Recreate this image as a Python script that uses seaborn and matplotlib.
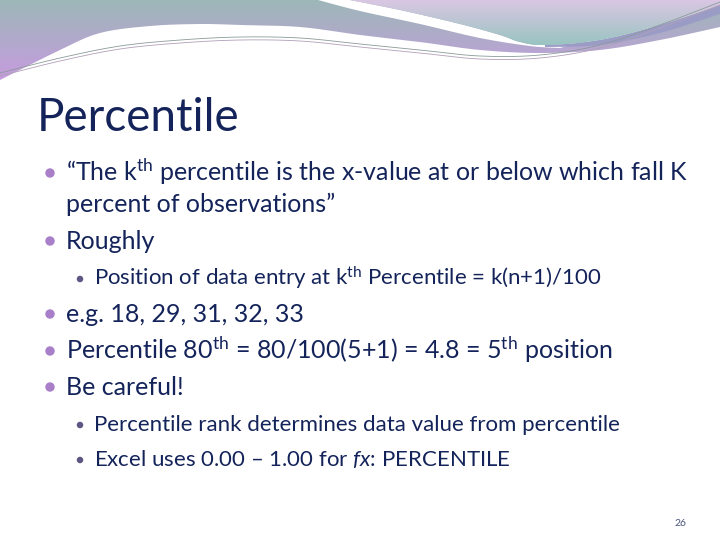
import numpy as np
import pandas as pd
import matplotlib
matplotlib.use("Agg")
import matplotlib.pyplot as plt
from matplotlib.path import Path
from matplotlib.patches import PathPatch
from matplotlib.colors import to_rgb
import seaborn as sns

# Slide content
title = "Percentile"
lines = [
    "“The k$^{th}$ percentile is the x-value at or below which fall K",
    "percent of observations”",
    "Roughly",
    "Position of data entry at k$^{th}$ Percentile = k(n+1)/100",
    "e.g. 18, 29, 31, 32, 33",
    "Percentile 80$^{th}$ = 80/100(5+1) = 4.8 = 5$^{th}$ position",
    "Be careful!",
    "Percentile rank determines data value from percentile",
    "Excel uses 0.00 – 1.00 for $\\mathit{fx}$: PERCENTILE",
]
levels = [1, 0, 1, 2, 1, 1, 1, 2, 2]   # 0 = wrapped line, no bullet
page_number = "26"

# layout (pixels, y downwards)
baselines = [181, 212, 249, 285, 322, 359, 395, 431, 466]
text_x = {0: 66, 1: 66, 2: 94}
bullet_x = {1: 50, 2: 80}
bullet_dy = {1: 8, 2: 6}

navy = "#14245a"
main_dot = "#a97fc9"
sub_dot = "#5b5782"

sns.set_theme(style="white")
plt.rcParams["font.family"] = ["Lato", "DejaVu Sans"]
plt.rcParams["mathtext.fontset"] = "custom"
plt.rcParams["mathtext.rm"] = "Lato"
plt.rcParams["mathtext.it"] = "Lato:italic"
plt.rcParams["mathtext.default"] = "regular"

fig = plt.figure(figsize=(7.2, 5.4), dpi=100)
ax = fig.add_axes([0, 0, 1, 1])
fig.patch.set_facecolor("white")


def smooth(pts, n=20):
    # catmull-rom through the given points
    pts = np.asarray(pts, float)
    p = np.vstack([pts[0], pts, pts[-1]])
    out = []
    for i in range(1, len(p) - 2):
        p0, p1, p2, p3 = p[i - 1], p[i], p[i + 1], p[i + 2]
        t = np.linspace(0, 1, n, endpoint=False)[:, None]
        out.append(0.5 * ((2 * p1) + (-p0 + p2) * t
                          + (2 * p0 - 5 * p1 + 4 * p2 - p3) * t ** 2
                          + (-p0 + 3 * p1 - 3 * p2 + p3) * t ** 3))
    out.append(pts[-1:])
    return np.vstack(out)


def gradient_fill(poly, top_color, bottom_color, y0, y1, z):
    patch = PathPatch(Path(poly), facecolor="none", edgecolor="none")
    ax.add_patch(patch)
    c0, c1 = np.array(to_rgb(top_color)), np.array(to_rgb(bottom_color))
    t = np.linspace(0, 1, 200)[:, None, None]
    img = c0 * (1 - t) + c1 * t
    im = ax.imshow(img, extent=[0, 720, y1, y0], aspect="auto", zorder=z,
                   interpolation="bilinear")
    im.set_clip_path(patch)


# top decoration: big band
lower = smooth([(0, 80), (60, 50), (100, 33), (150, 26), (200, 24), (240, 25),
                (300, 27), (360, 35), (420, 42), (480, 50), (540, 53),
                (600, 50), (660, 40), (720, 27)])
band = np.vstack([[0, 0], lower, [720, 0]])
gradient_fill(band, "#9db7b8", "#c79be0", 0, 82, 1)

# white stripe and upper-right shape
stripe_low = smooth([(318, 0), (360, 11), (420, 24), (480, 38), (530, 46), (560, 48)])
right_edge = smooth([(350, 0), (400, 10), (460, 24), (500, 35), (520, 42),
                     (545, 45), (600, 40), (660, 25), (720, 5)])
stripe = np.vstack([stripe_low, right_edge[::-1]])
ax.fill(stripe[:, 0], stripe[:, 1], color="white", zorder=2, lw=0)

blue_band = smooth([(545, 47), (600, 45), (660, 33), (720, 14)])
bb = np.vstack([right_edge[right_edge[:, 0] >= 545], blue_band[::-1]])
ax.fill(bb[:, 0], bb[:, 1], color="#9a9cc6", zorder=2, lw=0)

shape = np.vstack([[350, 0], right_edge, [720, 0]])
gradient_fill(shape, "#dac7e3", "#97c4c0", 0, 46, 3)

# thin lines
for off, col in [(0, "#8c9a9a"), (3, "#b0a0b8")]:
    thin = smooth([(0, 73), (60, 58), (120, 46), (180, 40), (240, 37),
                   (300, 38), (360, 44), (420, 50), (480, 56), (540, 55),
                   (600, 45), (660, 25), (720, 2)])
    ax.plot(thin[:, 0], thin[:, 1] + off, color=col, lw=0.6, zorder=4)

# title
ax.text(37, 131, title, fontsize=33, color=navy, va="baseline", ha="left", zorder=5)

# text lines
for txt, lev, y in zip(lines, levels, baselines):
    size = 16 if lev == 2 else 18
    ax.text(text_x[lev], y, txt, fontsize=size, color=navy, va="baseline",
            ha="left", zorder=5)

# bullets
bullets = pd.DataFrame({"level": levels, "baseline": baselines})
bullets = bullets[bullets["level"] > 0].copy()
bullets["x"] = bullets["level"].map(bullet_x)
bullets["y"] = bullets["baseline"] - bullets["level"].map(bullet_dy)
bullets["kind"] = bullets["level"].map({1: "main", 2: "sub"})
sns.scatterplot(data=bullets, x="x", y="y", hue="kind", size="kind",
                palette={"main": main_dot, "sub": sub_dot},
                sizes={"main": 46, "sub": 22}, linewidth=0, legend=False,
                ax=ax, zorder=5)

ax.text(680, 526, page_number, fontsize=7.5, color="#4a5580", ha="center",
        va="baseline", zorder=5)

ax.set_xlim(0, 720)
ax.set_ylim(540, 0)
ax.axis("off")

fig.savefig("out.png", dpi=100)
